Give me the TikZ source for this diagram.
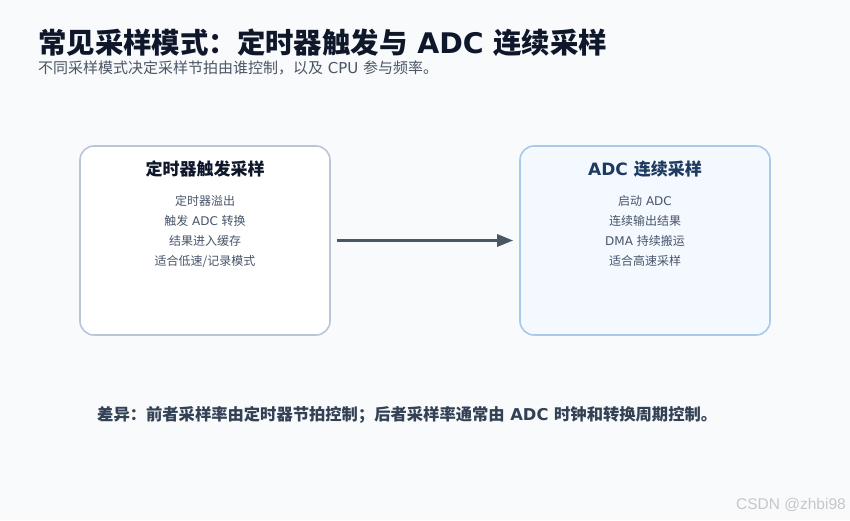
\documentclass[tikz,border=0pt]{standalone}
\usepackage{fontspec}
\setmainfont{Noto Sans CJK SC}
\newfontfamily\latsans{DejaVu Sans}
\newfontfamily\marksans{Liberation Sans}
\newcommand{\lat}[1]{{\latsans #1}}
\usepackage{xcolor}
\usetikzlibrary{arrows.meta}
\definecolor{bgpage}{HTML}{F8FAFC}
\definecolor{titleink}{HTML}{0F172A}
\definecolor{subink}{HTML}{4B5563}
\definecolor{bodyink}{HTML}{475569}
\definecolor{graybord}{HTML}{BAC6D6}
\definecolor{bluebord}{HTML}{A9C9E9}
\definecolor{bluefill}{HTML}{F4F9FF}
\definecolor{blueink}{HTML}{1E3A5F}
\definecolor{noteink}{HTML}{334155}
\definecolor{flowink}{HTML}{4A5565}
\tikzset{
    modebox/.style={draw, line width=1.6pt, rounded corners=14pt, minimum width=250pt, minimum height=189pt, inner sep=0pt},
    boxhead/.style={font=\fontsize{17}{19}\selectfont\bfseries, inner sep=0pt},
    boxbody/.style={font=\fontsize{12}{20}\selectfont, text=bodyink, align=center, inner sep=0pt},
    flow/.style={draw=flowink, line width=2.8pt, -{Triangle[length=16pt, width=12pt]}}
}
\begin{document}
\begin{tikzpicture}[x=1pt, y=-1pt]
    \fill[bgpage] (0,0) rectangle (850,520);
    \useasboundingbox (0,0) rectangle (850,520);
    % heading
    \node[anchor=west, inner sep=0pt, text=titleink, font=\fontsize{28.4}{30}\selectfont\bfseries] (title) at (38,43) {常见采样模式：定时器触发与\lat{ ADC }连续采样};
    \node[anchor=west, inner sep=0pt, text=subink, font=\fontsize{15}{17}\selectfont] (subtitle) at (38,68) {不同采样模式决定采样节拍由谁控制，以及\lat{ CPU }参与频率。};
    % the two modes
    \node[modebox, draw=graybord, fill=white] (timer) at (205,240.5) {};
    \node[boxhead, text=titleink] (timerhead) at (205,169) {定时器触发采样};
    \node[boxbody] (timerbody) at (205,231) {定时器溢出\\触发\lat{ ADC }转换\\结果进入缓存\\适合低速/记录模式};
    \node[modebox, draw=bluebord, fill=bluefill] (cont) at (645,240.5) {};
    \node[boxhead, text=blueink] (conthead) at (645,169) {\lat{ADC }连续采样};
    \node[boxbody] (contbody) at (645,231) {启动\lat{ ADC}\\连续输出结果\\\lat{DMA }持续搬运\\适合高速采样};
    \coordinate (flowstart) at ([xshift=6pt]timer.east);
    \draw[flow] (flowstart) -- ([xshift=-6pt]cont.west);
    % note
    \node[anchor=west, inner sep=0pt, text=noteink, font=\fontsize{16.3}{18}\selectfont\bfseries] (note) at (97,415) {差异：前者采样率由定时器节拍控制；后者采样率通常由\lat{ ADC }时钟和转换周期控制。};
    \node[anchor=east, inner sep=0pt, text=black!22, font=\marksans\fontsize{15.5}{17}\selectfont] (mark) at (846,505) {CSDN @zhbi98};
\end{tikzpicture}
\end{document}
